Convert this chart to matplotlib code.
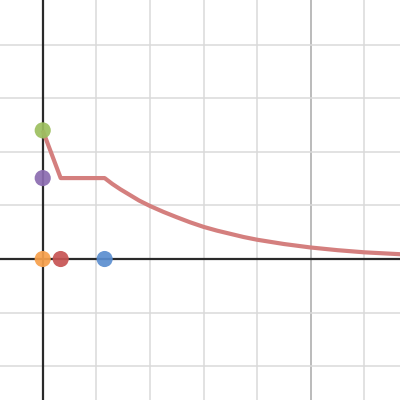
import matplotlib
matplotlib.use("Agg")
import matplotlib.pyplot as plt

# curve
curve_x = [0.0, 0.335, 1.155, 1.3, 1.45, 1.65, 1.8, 2.0, 2.25, 2.5, 2.75, 3.0,
           3.25, 3.5, 3.75, 4.0, 4.5, 5.0, 5.5, 6.0, 6.7]
curve_y = [2.40, 1.51, 1.51, 1.40, 1.30, 1.18, 1.09, 0.99, 0.88, 0.78, 0.685, 0.60,
           0.53, 0.47, 0.41, 0.36, 0.28, 0.215, 0.165, 0.125, 0.088]

# points
pt_x = [0.0, 0.0, 0.0, 0.335, 1.155]
pt_y = [2.40, 1.51, 0.0, 0.0, 0.0]
pt_colors = ["#9cbf5e", "#8b6bb0", "#f7a04b", "#c75453", "#5b8ed0"]

fig = plt.figure(figsize=(4, 4), dpi=100)
ax = fig.add_axes([0, 0, 1, 1])

xmin, xmax = -0.797, 6.666
ymin, ymax = -2.63, 4.832

# grid
for gx in range(-1, 8):
    if gx == 0:
        continue
    c = "#a8a8a8" if gx % 5 == 0 else "#dadada"
    ax.axvline(gx, color=c, lw=1.1, zorder=0)
for gy in range(-3, 6):
    if gy == 0:
        continue
    c = "#a8a8a8" if gy % 5 == 0 else "#dadada"
    ax.axhline(gy, color=c, lw=1.1, zorder=0)

ax.axhline(0, color="#2a2a2a", lw=1.6, zorder=1)
ax.axvline(0, color="#2a2a2a", lw=1.6, zorder=1)

ax.plot(curve_x, curve_y, color="#d47f7e", lw=3.0, solid_capstyle="butt",
        solid_joinstyle="round", zorder=2)

ax.scatter(pt_x, pt_y, s=135, c=pt_colors, alpha=0.92, linewidths=0, zorder=3)

ax.set_xlim(xmin, xmax)
ax.set_ylim(ymin, ymax)
ax.axis("off")

fig.savefig("out.png", dpi=100)
